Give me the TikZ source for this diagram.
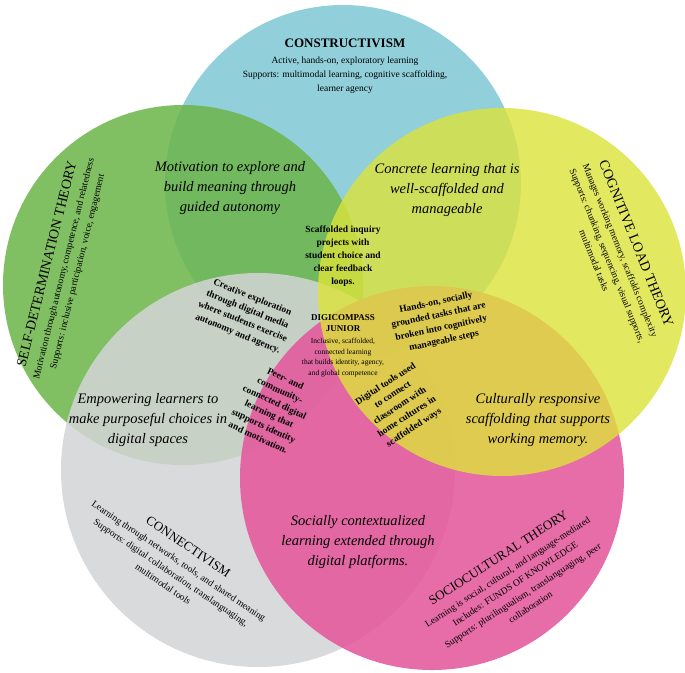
\documentclass[tikz,border=0pt]{standalone}
\usepackage{fontspec}
\setmainfont{Liberation Serif}
\begin{document}
\begin{tikzpicture}[x=1pt,y=-1pt,
 circ/.style={fill opacity=0.86,draw=none},
 ital/.style={font=\fontsize{14.5}{20}\selectfont\itshape,align=center},
 sm/.style={font=\fontsize{9.5}{13}\selectfont\bfseries,align=center},
 outer/.style={font=\fontsize{9.5}{13}\selectfont,align=center}]
\definecolor{cc}{HTML}{7FC8D5}
\definecolor{cg}{HTML}{6DB54A}
\definecolor{cy}{HTML}{DCE33A}
\definecolor{cgr}{HTML}{D3D4D6}
\definecolor{cp}{HTML}{E4559A}
\useasboundingbox (0,0) rectangle (685,672);
\fill[white] (0,0) rectangle (685,672);
\fill[cc,circ] (343,183) circle (178);
\fill[cg,circ] (183,285) circle (180);
\fill[cgr,circ] (258,470) circle (197);
\fill[cp,circ] (432,478) circle (192);
\fill[cy,circ,fill opacity=0.8] (502,292) circle (184);
% titles in outer parts
\node[outer] (con) at (345,66) {{\fontsize{13}{16}\selectfont\bfseries CONSTRUCTIVISM}\\[3pt]
 Active, hands-on, exploratory learning\\[1pt] Supports: multimodal learning, cognitive scaffolding,\\[1pt] learner agency};
\node[outer,rotate=76] (sdt) at (62,268) {{\fontsize{14}{16}\selectfont SELF-DETERMINATION THEORY}\\[3pt]
 Motivation through autonomy, competence, and relatedness\\[1pt] Supports: inclusive participation, voice, engagement};
\node[outer,rotate=-68] (clt) at (616,252) {{\fontsize{14}{16}\selectfont COGNITIVE LOAD THEORY}\\[3pt]
 Manages working memory, scaffolds complexity\\[1pt] Supports: chunking, sequencing, visual supports,\\[1pt] multimodal tasks};
\node[outer,rotate=-34] (cvt) at (176,565) {{\fontsize{13}{16}\selectfont CONNECTIVISM}\\[3pt]
 Learning through networks, tools, and shared meaning\\[1pt] Supports: digital collaboration, translanguaging,\\[1pt] multimodal tools};
\node[outer,rotate=33] (sct) at (514,582) {{\fontsize{13}{16}\selectfont SOCIOCULTURAL THEORY}\\[3pt]
 Learning is social, cultural, and language-mediated\\[1pt] Includes: FUNDS OF KNOWLEDGE\\[1pt] Supports: plurilingualism, translanguaging, peer\\[1pt] collaboration};
% pairwise italic
\node[ital] (p1) at (230,188) {Motivation to explore and\\ build meaning through\\ guided autonomy};
\node[ital] (p2) at (447,190) {Concrete learning that is\\ well-scaffolded and\\ manageable};
\node[ital] (p3) at (148,420) {Empowering learners to\\ make purposeful choices in\\ digital spaces};
\node[ital] (p4) at (538,420) {Culturally responsive\\ scaffolding that supports\\ working memory.};
\node[ital] (p5) at (358,542) {Socially contextualized\\ learning extended through\\ digital platforms.};
% inner
\node[sm] (i1) at (343,256) {Scaffolded inquiry\\ projects with\\ student choice and\\ clear feedback\\ loops.};
\node[sm,rotate=-22] (i2) at (245,316) {Creative exploration\\ through digital media\\ where students exercise\\ autonomy and agency.};
\node[sm,rotate=12] (i3) at (440,322) {Hands-on, socially\\ grounded tasks that are\\ broken into cognitively\\ manageable steps};
\node[sm,rotate=-25] (i4) at (272,408) {Peer- and\\ community-\\ connected digital\\ learning that\\ supports identity\\ and motivation.};
\node[sm,rotate=33] (i5) at (400,406) {Digital tools used\\ to connect\\ classroom with\\ home cultures in\\ scaffolded ways};
\node[align=center,font=\fontsize{7.5}{10.5}\selectfont] (ctr) at (343,346) {{\fontsize{9}{12}\selectfont\bfseries DIGICOMPASS}\\ {\fontsize{9}{12}\selectfont\bfseries JUNIOR}\\[2pt] Inclusive, scaffolded,\\ connected learning\\ that builds identity, agency,\\ and global competence};
\end{tikzpicture}
\end{document}
